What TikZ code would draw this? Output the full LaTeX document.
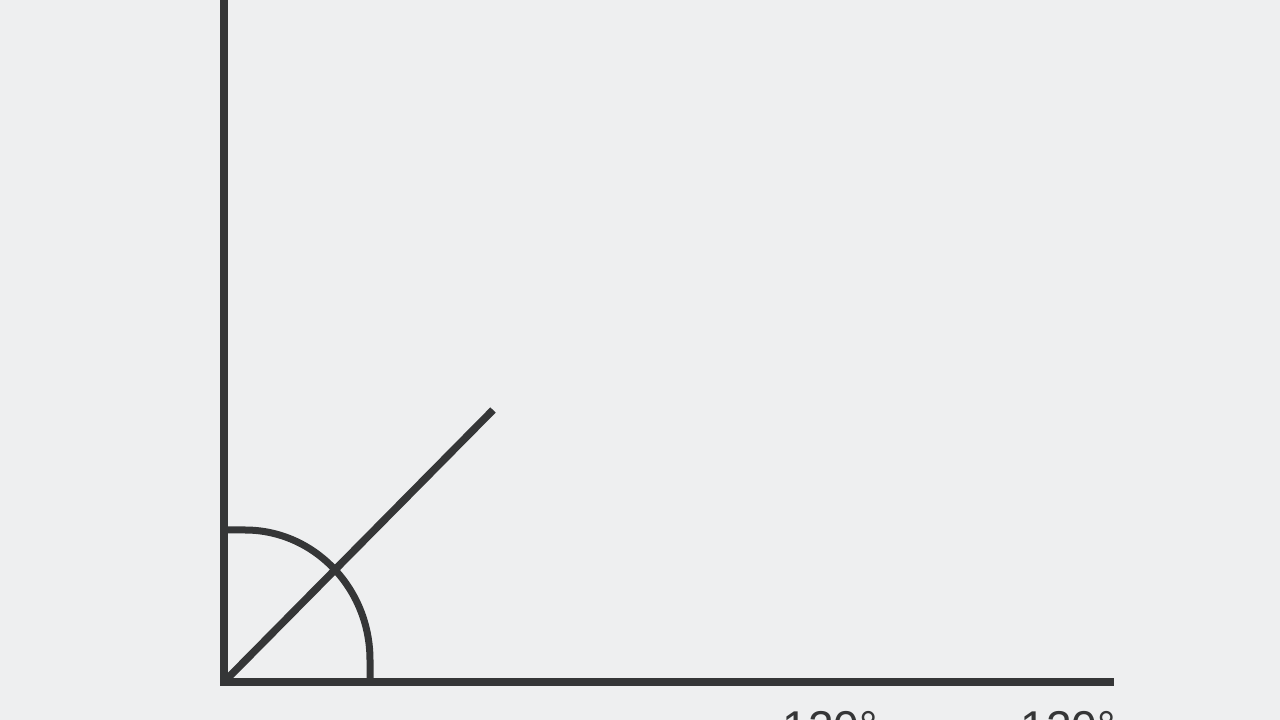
\documentclass[tikz,border=0pt]{standalone}
\usepackage{fontspec}
\setmainfont{Liberation Sans}
\definecolor{bg}{HTML}{EEEFF0}
\definecolor{ink}{HTML}{353637}
\begin{document}
\begin{tikzpicture}[x=1pt,y=1pt,
  axis/.style={draw=ink,line width=8.5pt},
  ray/.style={draw=ink,line width=7.5pt},
  anglemark/.style={draw=ink,line width=7pt},
  deglabel/.style={text=ink,inner sep=0pt,anchor=north,font=\fontsize{46}{50}\selectfont}]
\fill[bg] (0,0) rectangle (1280,720);
\useasboundingbox (0,0) rectangle (1280,720);
\coordinate (O) at (224,38);
\coordinate (T) at (224,724);
\coordinate (R) at (1114,38);
\coordinate (D) at (493,310);
\draw[axis] (T) -- (O) -- (R);
\draw[ray] (O) -- (D);
\draw[anglemark] (228,190) -- (245,190) arc[start angle=90,end angle=0,x radius=125,y radius=130] -- (370,41);
\node[deglabel] (a) at (830,9) {120°};
\node[deglabel] (b) at (1068,9) {120°};
\end{tikzpicture}
\end{document}
